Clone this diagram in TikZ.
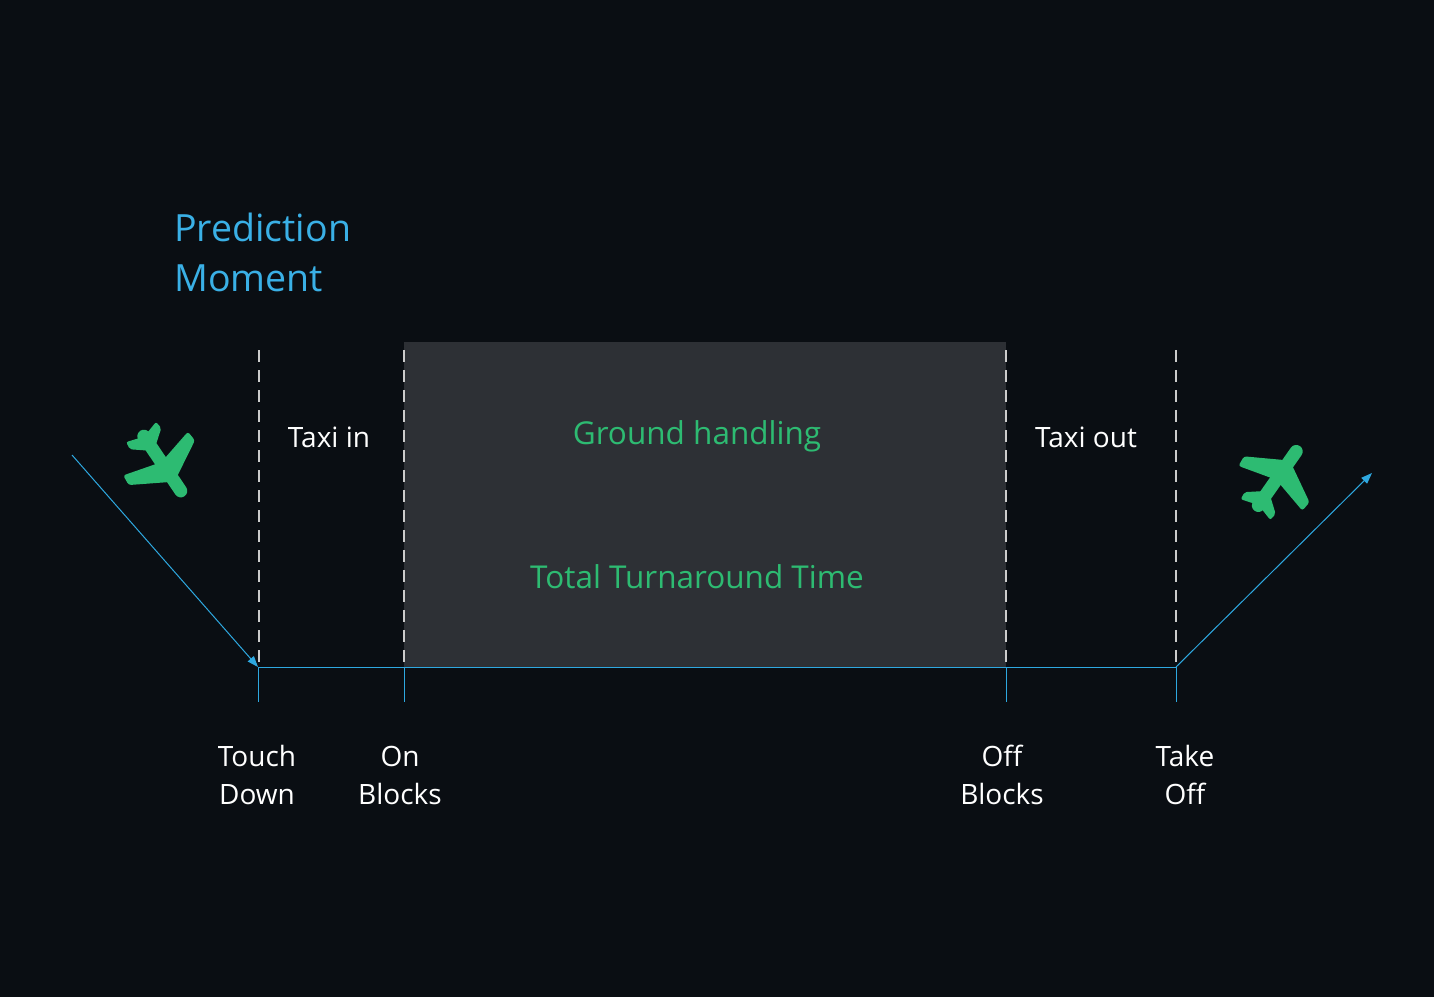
\documentclass[tikz,border=0pt]{standalone}
\usepackage{fontspec}
\setmainfont{Open Sans}
\definecolor{bg}{HTML}{0A0E13}
\definecolor{box}{HTML}{2D3035}
\definecolor{blu}{HTML}{2EA8E0}
\definecolor{pblu}{HTML}{3AB0E6}
\definecolor{grn}{HTML}{2DBB72}
\usetikzlibrary{arrows.meta}
\begin{document}
\begin{tikzpicture}[x=1pt,y=-1pt,
  tl/.style={blu,line width=1pt},
  dashln/.style={draw=white!80!black,line width=1.2pt,dash pattern=on 12pt off 8pt},
  lbl/.style={text=white,font=\fontsize{28}{38}\selectfont,align=center,inner sep=0},
  gl/.style={text=grn,font=\fontsize{31.5}{38}\selectfont,inner sep=0},
  arr/.style={blu,line width=1pt,-{Triangle[length=11pt,width=8pt]}},
  plane/.pic={
    \fill[grn] (-6.5,-36) -- (-6.5,30) arc[start angle=180,end angle=0,radius=6.5] -- (6.5,-36) arc[start angle=0,end angle=-180,radius=6.5] -- cycle;
    \fill[grn,rounded corners=2.5pt] (-5,16) -- (-40,-4) -- (-39,-15) -- (-5,-6) -- (5,-6) -- (39,-15) -- (40,-4) -- (5,16) -- cycle;
    \fill[grn,rounded corners=2pt] (-5,-22) -- (-19,-33) -- (-18,-41) -- (-5,-37) -- (5,-37) -- (18,-41) -- (19,-33) -- (5,-22) -- cycle;
  }]
\useasboundingbox[fill=bg] (0,0) rectangle (1434,997);
\fill[box] (404,342) rectangle (1006,667);
\coordinate (td) at (258,667); \coordinate (ob) at (404,667);
\coordinate (fb) at (1006,667); \coordinate (to) at (1176,667);
\coordinate (inS) at (72,455); \coordinate (outE) at (1372,473);
\foreach \x in {259,404,1006,1176} \draw[dashln] (\x,350) -- (\x,667);
\draw[tl] (td) -- (to);
\foreach \c in {td,ob,fb,to} \draw[tl] (\c) -- ++(0,35);
\draw[arr] (inS) -- (td);
\draw[arr] (to) -- (outE);
\begin{scope}[y=1pt]
\pic[rotate=-146] at (164,-466) {plane};
\pic[rotate=-35] at (1279,-476) {plane};
\end{scope}
\node[text=pblu,font=\fontsize{37.5}{50}\selectfont,align=left,anchor=north west,inner sep=0] (pm) at (174,213) {Prediction\\Moment};
\node[lbl] (ti) at (329,437) {Taxi in};
\node[lbl] (tx) at (1086,437) {Taxi out};
\node[gl] (gh) at (697,436) {Ground handling};
\node[gl] (tt) at (697,577) {Total Turnaround Time};
\node[lbl] (l1) at (257,775) {Touch\\Down};
\node[lbl] (l2) at (400,775) {On\\Blocks};
\node[lbl] (l3) at (1002,775) {Off\\Blocks};
\node[lbl] (l4) at (1185,775) {Take\\Off};
\end{tikzpicture}
\end{document}
